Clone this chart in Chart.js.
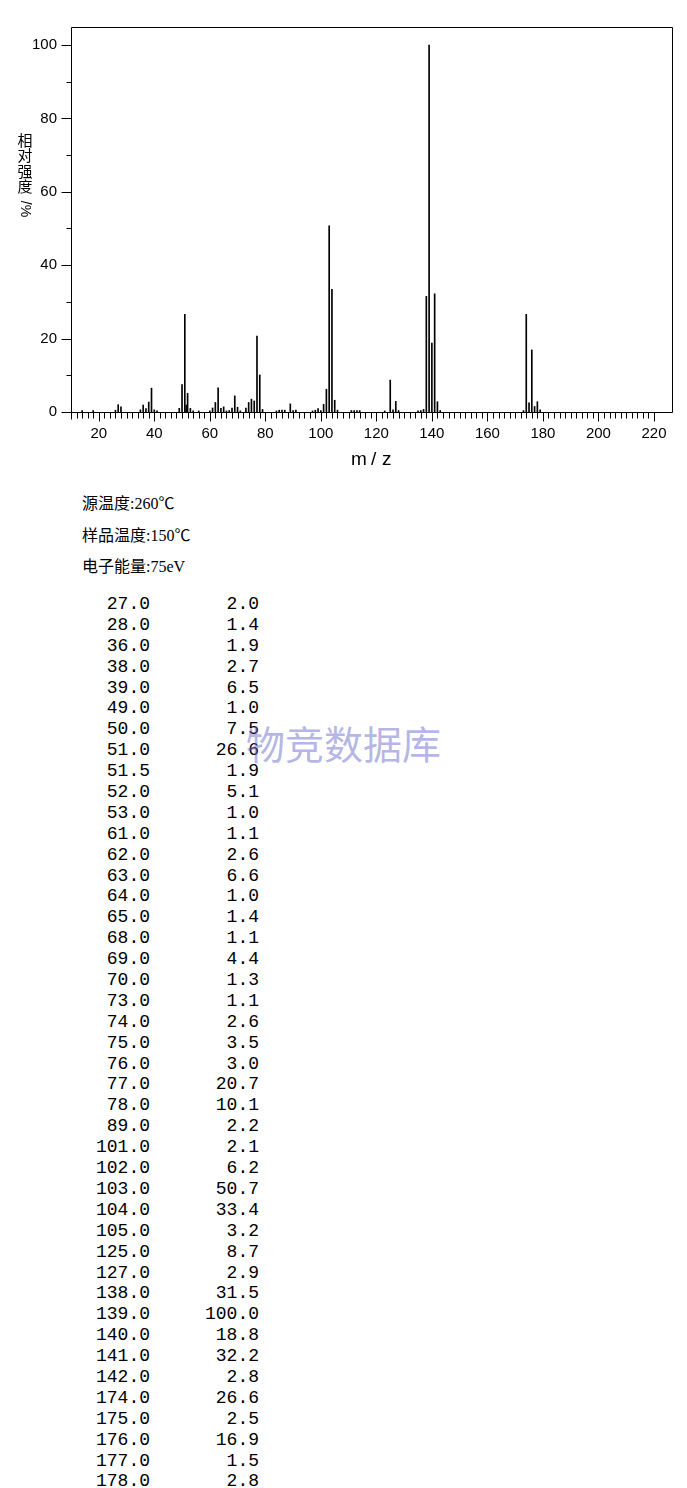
<!DOCTYPE html>
<html>
<head>
<meta charset="utf-8">
<script src="https://cdn.jsdelivr.net/npm/chart.js@4.4.1/dist/chart.umd.min.js"></script>
<style>
  body { margin: 0; background: #fff; }
  #page { position: relative; width: 687px; height: 1488px; overflow: hidden; background: #fff; }
  #wrap { position: absolute; left: 0; top: 0; width: 687px; height: 480px; }
  .info { position: absolute; left: 82px; font: 16px "Liberation Serif", "Noto Sans CJK SC", serif; line-height: 16px; color: #000; white-space: nowrap; }
  #table { position: absolute; left: 0; top: 594px; font: 18px "Liberation Mono", monospace; color: #000; }
  .row { height: 20.9px; line-height: 20.9px; white-space: pre; }
  .row span { display: inline-block; text-align: right; }
  .c1 { width: 150px; }
  .c2 { width: 109px; }
  #mark { position: absolute; left: 246px; top: 723px; font: 39px "Noto Sans CJK SC", sans-serif; line-height: 1;
          color: rgba(110, 110, 205, 0.5); white-space: nowrap; }
</style>
</head>
<body>
<div id="page">
  <div id="wrap"><canvas id="ms" width="687" height="480"></canvas></div>
  <div class="info" style="top:496px">源温度:260℃</div>
  <div class="info" style="top:528px">样品温度:150℃</div>
  <div class="info" style="top:559px">电子能量:75eV</div>
  <div id="table"></div>
  <div id="mark">物竞数据库</div>
</div>
<script>
// listed peaks (table)
const mzValues = [27.0, 28.0, 36.0, 38.0, 39.0, 49.0, 50.0, 51.0, 51.5, 52.0, 53.0, 61.0, 62.0, 63.0, 64.0, 65.0,
  68.0, 69.0, 70.0, 73.0, 74.0, 75.0, 76.0, 77.0, 78.0, 89.0, 101.0, 102.0, 103.0, 104.0, 105.0, 125.0, 127.0,
  138.0, 139.0, 140.0, 141.0, 142.0, 174.0, 175.0, 176.0, 177.0, 178.0];
const intensities = [2.0, 1.4, 1.9, 2.7, 6.5, 1.0, 7.5, 26.6, 1.9, 5.1, 1.0, 1.1, 2.6, 6.6, 1.0, 1.4,
  1.1, 4.4, 1.3, 1.1, 2.6, 3.5, 3.0, 20.7, 10.1, 2.2, 2.1, 6.2, 50.7, 33.4, 3.2, 8.7, 2.9,
  31.5, 100.0, 18.8, 32.2, 2.8, 26.6, 2.5, 16.9, 1.5, 2.8];

// small peaks seen on the plot only (estimated)
const minorMz = [14, 18, 26, 35, 37, 40, 41, 54, 56, 60, 66, 67, 71, 79, 84, 85, 86, 87, 90, 91,
  97, 98, 99, 100, 106, 111, 112, 113, 114, 123, 126, 128, 135, 136, 137, 143, 173, 179];
const minorInt = [0.4, 0.4, 0.5, 0.6, 0.9, 0.6, 0.3, 0.3, 0.3, 0.3, 0.3, 0.4, 0.3, 0.7, 0.3, 0.5, 0.5, 0.5, 0.4, 0.5,
  0.3, 0.5, 0.9, 0.4, 0.5, 0.4, 0.4, 0.4, 0.4, 0.3, 0.6, 0.4, 0.3, 0.4, 0.7, 0.4, 0.4, 0.6];

const xTickLabels = [20, 40, 60, 80, 100, 120, 140, 160, 180, 200, 220];
const yTickLabels = [0, 20, 40, 60, 80, 100];
const yTitleChars = ["相", "对", "强", "度"];

// table text
const table = document.getElementById("table");
mzValues.forEach((m, i) => {
  table.innerHTML += `<div class="row"><span class="c1">${m.toFixed(1)}</span><span class="c2">${intensities[i].toFixed(1)}</span></div>`;
});

const peaks = [];
mzValues.forEach((m, i) => peaks.push({ x: m, y: intensities[i] }));
minorMz.forEach((m, i) => peaks.push({ x: m, y: minorInt[i] }));

// frame, ticks and labels
const axesPlugin = {
  id: "axesPlugin",
  afterDraw(chart) {
    const { ctx, chartArea: a, scales } = chart;
    const x = scales.x, y = scales.y;
    const L = Math.round(a.left), R = Math.round(a.right), T = Math.round(a.top), B = Math.round(a.bottom);
    ctx.save();
    ctx.strokeStyle = "#000";
    ctx.lineWidth = 1;
    ctx.beginPath();
    ctx.rect(L + 0.5, T + 0.5, R - L, B - T);
    for (let v = 10; v <= 220; v += 2) {
      const px = Math.round(x.getPixelForValue(v)) + 0.5;
      const len = v % 20 === 0 ? 9 : (v === 10 ? 7 : 6);
      ctx.moveTo(px, B + 0.5);
      ctx.lineTo(px, B + 0.5 + len);
    }
    for (let v = 0; v <= 100; v += 10) {
      const py = Math.round(y.getPixelForValue(v)) + 0.5;
      const len = v % 20 === 0 ? 10 : 5;
      ctx.moveTo(L + 0.5, py);
      ctx.lineTo(L + 0.5 - len, py);
    }
    ctx.stroke();

    ctx.fillStyle = "#000";
    ctx.font = '15px "Liberation Sans", sans-serif';
    ctx.textAlign = "center";
    ctx.textBaseline = "middle";
    xTickLabels.forEach((v) => ctx.fillText(String(v), x.getPixelForValue(v), B + 22));
    ctx.textAlign = "right";
    yTickLabels.forEach((v) => ctx.fillText(String(v), L - 14, y.getPixelForValue(v)));

    // x title
    ctx.font = '19px "Liberation Sans", sans-serif';
    ctx.textAlign = "left";
    ctx.textBaseline = "alphabetic";
    ctx.fillText("m", 351, 465);
    ctx.fillText("/", 371, 465);
    ctx.fillText("z", 382, 465);

    // y title, stacked characters
    ctx.font = '15px "Noto Sans CJK SC", sans-serif';
    ctx.textAlign = "center";
    ctx.textBaseline = "middle";
    yTitleChars.forEach((c, i) => ctx.fillText(c, 25, 140 + i * 15.5));
    ctx.translate(25, 209);
    ctx.rotate(Math.PI / 2);
    ctx.font = '14px "Liberation Sans", sans-serif';
    ctx.fillText("/%", 0, 0);
    ctx.restore();
  }
};

new Chart(document.getElementById("ms"), {
  type: "bar",
  data: {
    datasets: [{
      data: peaks,
      backgroundColor: "#000",
      borderWidth: 0,
      barThickness: 1
    }]
  },
  options: {
    responsive: false,
    devicePixelRatio: 1,
    animation: false,
    layout: { padding: { left: 71, top: 27, right: 15, bottom: 68 } },
    plugins: { legend: { display: false }, tooltip: { enabled: false } },
    scales: {
      x: { type: "linear", min: 10, max: 226.5, offset: false, display: false },
      y: { type: "linear", min: 0, max: 104.9, display: false }
    }
  },
  plugins: [axesPlugin]
});
</script>
</body>
</html>
